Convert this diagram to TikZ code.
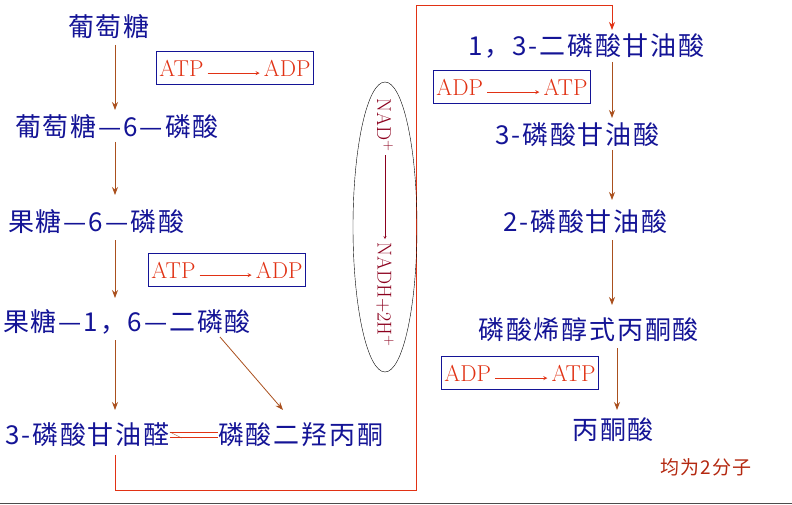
\documentclass[tikz,border=0pt]{standalone}
\usepackage{fontspec}
\newfontfamily\cjk[LetterSpace=7]{Noto Sans CJK SC}
\usetikzlibrary{positioning,shapes.geometric,arrows.meta}
\definecolor{chem}{RGB}{20,20,150}
\definecolor{flow}{RGB}{170,80,30}
\definecolor{hot}{RGB}{225,50,20}
\definecolor{nad}{RGB}{140,0,30}
\begin{document}
\begin{tikzpicture}[x=1pt,y=-1pt]
    \tikzstyle{mol}=[text=chem,font=\cjk\fontsize{26}{30}\selectfont,inner sep=0pt,anchor=west]
    \tikzstyle{react}=[-{Stealth[length=8pt,width=6pt]},flow,thick]
    \tikzstyle{energy}=[draw=chem,line width=1.4pt,text=hot,font=\fontsize{23}{25}\selectfont,minimum height=33pt,inner sep=3pt]
    \useasboundingbox (0,0) rectangle (792,505);
    \fill[white] (0,0) rectangle (792,505);

    % glycolysis, first half
    \node (glc)[mol] at (68,27) {葡萄糖};
    \node (g6p)[mol] at (15,127) {葡萄糖—6—磷酸};
    \node (f6p)[mol] at (8,222) {果糖—6—磷酸};
    \node (fbp)[mol] at (3,322) {果糖—1，6—二磷酸};
    \node (gap)[mol] at (5,435) {3-磷酸甘油醛};
    \node (dhap)[mol] at (218,435) {磷酸二羟丙酮};

    \node (atp1)[energy] at (235,68) {ATP\,\tikz[baseline=-3pt]\draw[-stealth,hot,thick](0,0)--(52,0);\,ADP};
    \node (atp2)[energy] at (227,270) {ATP\,\tikz[baseline=-3pt]\draw[-stealth,hot,thick](0,0)--(52,0);\,ADP};

    \draw[react] (115,45) -- (115,110);
    \draw[react] (115,142) -- (115,195);
    \draw[react] (115,240) -- (115,298);
    \draw[react] (115,340) -- (115,410);
    \draw[react] (220,337) -- (283,410);
    \draw[hot,thick] ([yshift=-2pt]gap.east) -- ([yshift=-2pt]dhap.west);
    \draw[hot,thick] ([yshift=3pt]gap.east) -- ([yshift=3pt]dhap.west);
    \draw[flow] ([yshift=3pt]gap.east) -- ++(12,6);

    % carrier from the triose to the second half
    \coordinate (c1) at (115,490);
    \coordinate (c2) at (416,490);
    \coordinate (c3) at (416,5);
    \coordinate (c4) at (612,5);
    \draw[hot,thick] (115,455) -- (c1) -- (c2) -- (c3) -- (c4);
    \draw[react,hot] (c4) -- (612,30);

    \node (cell)[draw,ellipse,minimum width=64pt,minimum height=290pt,inner sep=0pt] at (385,227) {};
    \node (nad)[text=nad,rotate=-90,font=\fontsize{20}{22}\selectfont] at (385,125) {NAD$^+$};
    \node (nadh)[text=nad,rotate=-90,font=\fontsize{20}{22}\selectfont] at (385,295) {NADH+2H$^+$};
    \draw[-stealth,nad] (nad) -- (nadh);

    % glycolysis, second half
    \node (bpg)[mol] at (468,46) {1，3-二磷酸甘油酸};
    \node (pg3)[mol] at (495,135) {3-磷酸甘油酸};
    \node (pg2)[mol] at (503,222) {2-磷酸甘油酸};
    \node (pep)[mol] at (478,330) {磷酸烯醇式丙酮酸};
    \node (pyr)[mol] at (572,430) {丙酮酸};

    \node (atp3)[energy] at (512,87) {ADP\,\tikz[baseline=-3pt]\draw[-stealth,hot,thick](0,0)--(52,0);\,ATP};
    \node (atp4)[energy] at (520,373) {ADP\,\tikz[baseline=-3pt]\draw[-stealth,hot,thick](0,0)--(52,0);\,ATP};

    \draw[react] (612,62) -- (612,118);
    \draw[react] (612,150) -- (612,200);
    \draw[react] (612,240) -- (612,305);
    \draw[react] (617,348) -- (617,410);

    \node (note)[text=hot!80!black,font=\cjk\fontsize{19}{22}\selectfont] at (706,467) {均为2分子};
    \draw[black!70,thick] (0,503) -- (792,503);
\end{tikzpicture}
\end{document}
